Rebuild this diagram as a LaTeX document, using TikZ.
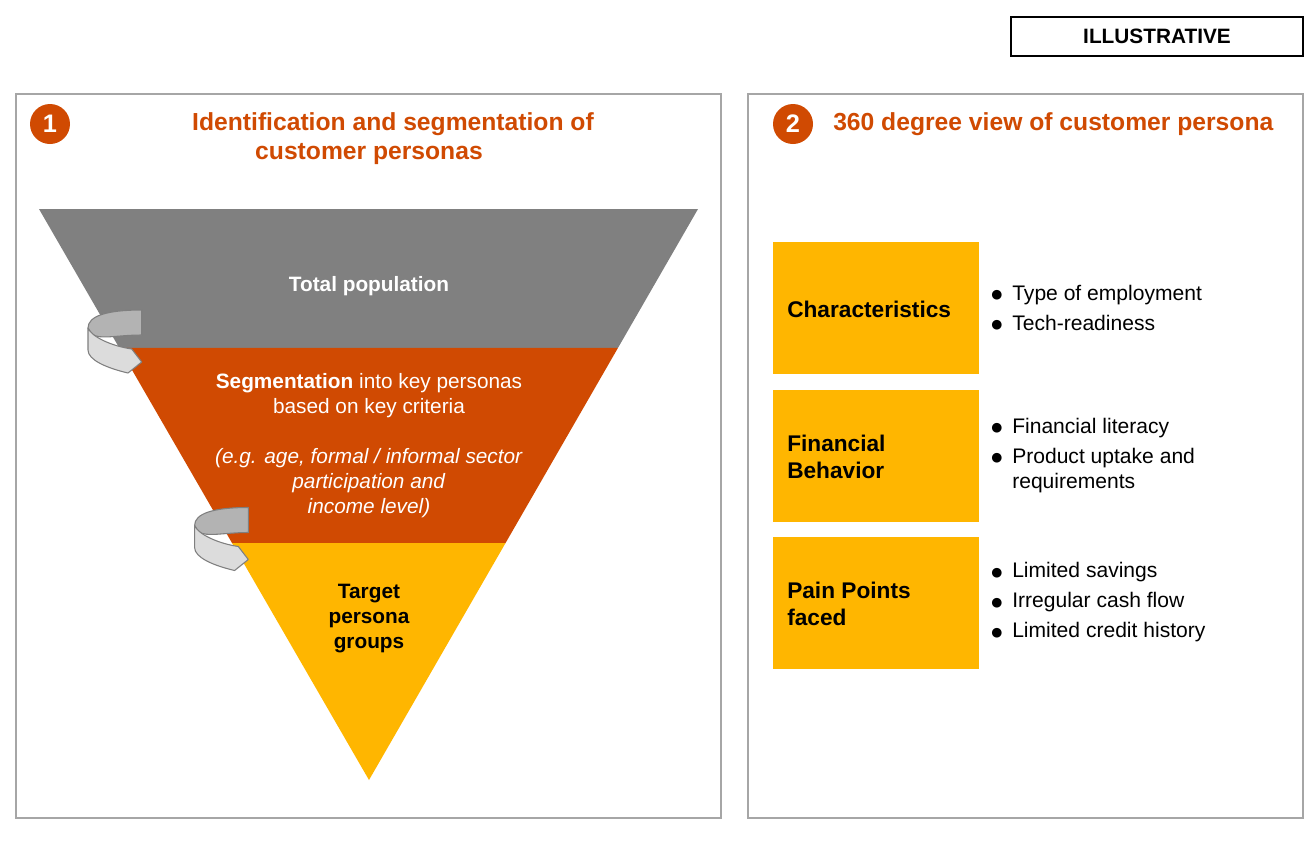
\documentclass[tikz,border=0pt]{standalone}
\usepackage{fontspec}
\setmainfont{Liberation Sans}
\newfontfamily\djv{DejaVu Sans}
\usetikzlibrary{calc}
\definecolor{pwcorange}{HTML}{D04A02}
\definecolor{pwcyellow}{HTML}{FFB600}
\definecolor{fgray}{HTML}{808080}
\definecolor{pgray}{HTML}{A6A6A6}
\definecolor{rdark}{HTML}{B3B3B3}
\definecolor{rlight}{HTML}{DCDCDC}
\definecolor{rline}{HTML}{7F7F7F}
\newcommand\fsz[2]{\fontsize{#1}{#2}\selectfont}
\newcommand\bulx{\makebox[15.75pt][l]{\raisebox{1.3pt}{\djv\fsz{9.5pt}{9.5pt}●}}}
\newcommand\indx{\hspace*{15.75pt}}
\tikzset{
  panel/.style={draw=pgray, line width=0.9pt},
  numcirc/.style={circle, fill=pwcorange, minimum size=30pt, inner sep=0pt, text=white, font=\bfseries\fsz{19pt}{19pt}},
  titletxt/.style={text=pwcorange, font=\bfseries\fsz{18.5pt}{21.75pt}, inner sep=0pt},
  funneltxt/.style={align=center, font=\fsz{15.6pt}{18.75pt}, inner sep=0pt},
  catbox/.style={fill=pwcyellow, minimum width=154.5pt, minimum height=99pt, inner sep=0pt},
  catlabel/.style={align=left, font=\bfseries\fsz{17pt}{20.25pt}, inner sep=0pt, anchor=west},
  bullist/.style={align=left, font=\fsz{15.8pt}{18.75pt}, inner sep=0pt, anchor=west},
  curl/.pic={
    \filldraw[fill=rdark, draw=rline, line width=0.8pt, line join=round]
      (0,0) -- (0,25) .. controls (-25,25) and (-42,30) .. (-50,24)
      -- (-53.7,18) .. controls (-53.7,6) and (-35,0) .. (0,0) -- cycle;
    \filldraw[fill=rlight, draw=rline, line width=0.8pt, line join=round]
      (-53.7,18) .. controls (-50,27) and (-30,36) .. (-10,39)
      -- (0,52) -- (-13.7,63) .. controls (-35,58) and (-53.7,50) .. (-53.7,40) -- cycle;
  }
}
\begin{document}
\begin{tikzpicture}[x=0.75pt,y=-0.75pt]
\useasboundingbox (0,0) rectangle (1315,840);
\fill[white] (0,0) rectangle (1315,840);

% ILLUSTRATIVE
\node[draw=black, line width=0.9pt, minimum width=219pt, minimum height=29.25pt, inner sep=0pt,
      font=\bfseries\fsz{15.6pt}{15.6pt}] (illus) at (1157,36.5) {ILLUSTRATIVE};

% panels
\draw[panel] (16,94) rectangle (721,818);
\draw[panel] (748,94) rectangle (1303,818);

% headers
\node[numcirc] (n1) at (50,124) {1};
\node[titletxt, align=center] (t1) at (369,139) {\hspace*{36pt}Identification and segmentation of\\customer personas};
\node[numcirc] (n2) at (793,124) {2};
\node[titletxt, anchor=west] (t2) at (833,124) {360 degree view of customer persona};

% funnel
\coordinate (TL) at (39,209);
\coordinate (TR) at (698,209);
\coordinate (AP) at (369,780);
\coordinate (L1) at ($(TL)!0.2434!(AP)$);
\coordinate (R1) at ($(TR)!0.2434!(AP)$);
\coordinate (L2) at ($(TL)!0.585!(AP)$);
\coordinate (R2) at ($(TR)!0.585!(AP)$);
\fill[fgray] (TL) -- (TR) -- (R1) -- (L1) -- cycle;
\fill[pwcorange] (L1) -- (R1) -- (R2) -- (L2) -- cycle;
\fill[pwcyellow] (L2) -- (R2) -- (AP) -- cycle;

\node[funneltxt, text=white, font=\bfseries\fsz{15.6pt}{18.75pt}] (f1) at (369,286) {Total population};
\node[funneltxt, text=white] (f2) at (369,446) {\textbf{Segmentation} into key personas\\based on key criteria\\[18.75pt]
  \textit{(e.g. age, formal / informal sector}\\\textit{participation and}\\\textit{income level)}};
\node[funneltxt, text=black, font=\bfseries\fsz{15.6pt}{18.75pt}] (f3) at (369,619) {Target\\persona\\groups};

% curls
\pic at (141.7,310) {curl};
\pic at (248.3,507.5) {curl};

% right boxes
\node[catbox] (b1) at (875.5,308) {};
\node[catbox] (b2) at (875.5,455.5) {};
\node[catbox] (b3) at (875.5,603) {};
\node[catlabel] (c1) at (787,309) {Characteristics};
\node[catlabel] (c2) at (787,457) {Financial\\Behavior};
\node[catlabel] (c3) at (787,604) {Pain Points\\faced};

\node[bullist] (l1) at (991,308) {\bulx Type of employment\\[3.75pt]\bulx Tech-readiness};
\node[bullist] (l2) at (991,455.5) {\bulx Financial literacy\\[3.75pt]\bulx Product uptake and\\\indx requirements};
\node[bullist] (l3) at (991,602.5) {\bulx Limited savings\\[3.75pt]\bulx Irregular cash flow\\[3.75pt]\bulx Limited credit history};
\end{tikzpicture}
\end{document}
